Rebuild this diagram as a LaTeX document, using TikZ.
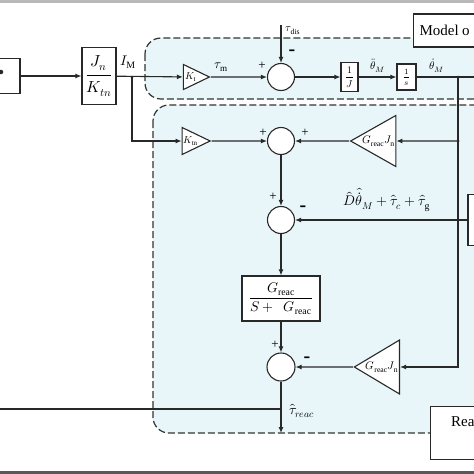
\documentclass[tikz,border=0pt]{standalone}
\usepackage{unicode-math}
\setmainfont{Liberation Serif}
\usetikzlibrary{shapes.geometric, arrows.meta, positioning, calc}
\definecolor{zonefill}{RGB}{232,246,250}
\definecolor{linegray}{RGB}{40,40,40}

\begin{document}
\begin{tikzpicture}[x=1pt, y=-1pt,
            sumnode/.style={circle, draw=linegray, fill=white, line width=1.1pt, minimum size=27pt, inner sep=0pt},
            block/.style={rectangle, draw=linegray, fill=white, line width=1.1pt, inner sep=0pt},
            gain/.style={isosceles triangle, isosceles triangle stretches, draw=linegray, fill=white, line width=1.1pt, inner sep=0pt},
            signal/.style={draw=linegray, line width=1.1pt, -{Latex[length=6pt,width=5pt]}},
            wireline/.style={draw=linegray, line width=1.1pt},
            zone/.style={draw=black!80, fill=zonefill, line width=1.2pt, dash pattern=on 7pt off 3pt, rounded corners=16pt},
            sign/.style={font=\fontsize{13}{13}\selectfont, inner sep=1pt},
            minus/.style={font=\fontsize{20}{20}\selectfont\bfseries, inner sep=1pt},
            lbl/.style={inner sep=1pt}
        ]
        \useasboundingbox (0,0) rectangle (474,474);
        \clip (0,0) rectangle (474,474);

        % Shaded regions
        \draw[zone] (145,38) rectangle (530,99);
        \draw[zone] (153,105) rectangle (530,433);

        % Frame bars
        \fill[black!28] (0,0) rectangle (474,2.5);
        \fill[black!65] (0,471) rectangle (474,474);

        % Forward path
        \node[block, minimum width=40pt, minimum height=35pt] (src) at (0,76) {};
        \node[circle, fill=linegray, inner sep=1.6pt] (srcdot) at (1,72) {};
        \node[block, minimum width=34pt, minimum height=57pt] (jk) at (99,76) {\fontsize{16}{16}\selectfont$\dfrac{J_n\rule[-6pt]{0pt}{0pt}}{\rule{0pt}{15pt}K_{tn}}$};
        \node[gain, minimum width=25pt, minimum height=26pt] (kt) at (190.5,77) {\fontsize{10}{10}\selectfont$K_{\mathrm{t}}$};
        \node[sumnode] (s1) at (281,77) {};
        \node[block, minimum width=17pt, minimum height=29pt] (invj) at (349.5,77) {\fontsize{10}{10}\selectfont$\dfrac{1}{J}$};
        \node[block, minimum width=19pt, minimum height=26pt] (invs) at (406.5,77) {\fontsize{8}{8}\selectfont$\dfrac{1}{s}$};
        \node[block, anchor=west, minimum height=33pt, text width=88pt, inner xsep=6pt, align=left] (model) at (413,30.5) {\fontsize{15}{15}\selectfont Model o};

        % Reaction torque observer
        \node[gain, minimum width=27pt, minimum height=28pt] (km) at (190.5,141) {\fontsize{10}{10}\selectfont$K_{\mathrm{tn}}$};
        \node[sumnode] (s2) at (281,141) {};
        \node[gain, shape border rotate=180, minimum width=51pt, minimum height=33pt] (g1) at (378.5,141) {\fontsize{11}{11}\selectfont$G_{\mathrm{reac}}J_{\mathrm{n}}$};
        \node[sumnode] (s3) at (281,220) {};
        \node[block, minimum width=60pt, minimum height=51pt] (rb) at (498,220) {};
        \node[block, minimum width=78pt, minimum height=45pt] (gf) at (281,298.5) {\fontsize{14}{14}\selectfont$\dfrac{G_{\mathrm{reac}}}{S+\ \ G_{\mathrm{reac}}}$};
        \node[sumnode, minimum size=28pt] (s4) at (281,367) {};
        \node[gain, shape border rotate=180, minimum width=54pt, minimum height=34pt] (g2) at (382,367) {\fontsize{11}{11}\selectfont$G_{\mathrm{reac}}J_{\mathrm{n}}$};
        \node[block, anchor=north west, minimum width=80pt, minimum height=53pt] (real) at (430,406) {};
        \node[lbl, anchor=west] (reallbl) at (450,422) {\fontsize{15}{15}\selectfont Rea};

        % Branch points and free ends
        \coordinate (jim) at (132,77);
        \coordinate (jth) at (458,77);
        \coordinate (jg) at (458,141);
        \coordinate (thout) at (480,77);
        \coordinate (tdis) at (281,25);
        \coordinate (tout) at (281,433);
        \coordinate (tfb) at (281,409);
        \coordinate (tleft) at (0,409);

        % Connections
        \draw[signal] (src) -- (jk);
        \draw[signal] (jk) -- (kt);
        \draw[signal] (jim) |- (km);
        \draw[signal] (kt) -- (s1);
        \draw[signal] (tdis) -- (s1);
        \draw[signal] (s1) -- (invj);
        \draw[signal] (invj) -- (invs);
        \draw[wireline] (invs) -- (thout);
        \draw[wireline] (jth) -- (jg);
        \draw[signal] (jg) -- (g1);
        \draw[signal] (jg) |- (g2);
        \draw[signal] (km) -- (s2);
        \draw[signal] (g1) -- (s2);
        \draw[signal] (s2) -- (s3);
        \draw[signal] (rb) -- (s3);
        \draw[signal] (s3) -- (gf);
        \draw[signal] (gf) -- (s4);
        \draw[signal] (g2) -- (s4);
        \draw[signal] (s4) -- (tout);
        \draw[wireline] (tfb) -- (tleft);
        \foreach \p in {jim, jth, jg}
            \fill[linegray] (\p) circle (1.5pt);

        % Labels
        \node[lbl] (lim) at (128,62) {\fontsize{14}{14}\selectfont$I_{\mathrm{M}}$};
        \node[lbl] (ltm) at (221,67) {\fontsize{13}{13}\selectfont$\tau_{\mathrm{m}}$};
        \node[lbl] (ltd) at (293,31) {\fontsize{11}{11}\selectfont$\tau_{\mathrm{dis}}$};
        \node[lbl] (lacc) at (378,66) {\fontsize{11}{11}\selectfont$\ddot{\theta}_{M}$};
        \node[lbl] (lvel) at (437,66) {\fontsize{11}{11}\selectfont$\dot{\theta}_{M}$};
        \node[lbl] (lest) at (387,200) {\fontsize{14}{14}\selectfont$\hat{D}\hat{\dot{\theta}}_{M}+\hat{\tau}_{c}+\hat{\tau}_{\mathrm{g}}$};
        \node[lbl] (lreac) at (302,411) {\fontsize{14}{14}\selectfont$\hat{\tau}_{reac}$};

        % Signs
        \node[minus] (m1) at (292,53) {-};
        \node[sign] (p1) at (262,66) {+};
        \node[sign] (p2) at (263,133) {+};
        \node[sign] (p3) at (305,133) {+};
        \node[sign] (p4) at (273,197) {+};
        \node[minus] (m3) at (303,209) {-};
        \node[sign] (p5) at (275,345) {+};
        \node[minus] (m4) at (307,360) {-};
\end{tikzpicture}
\end{document}
